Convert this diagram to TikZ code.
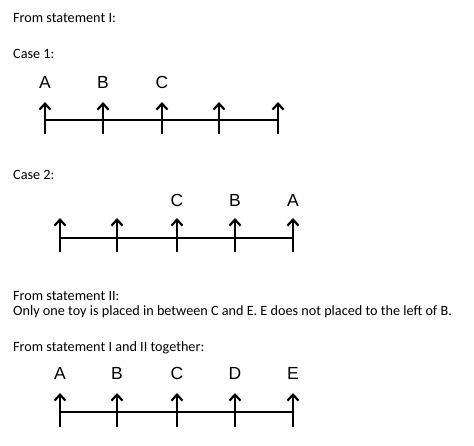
\documentclass[tikz,border=0pt]{standalone}
\usepackage{fontspec}
\setmainfont{Carlito}
\newfontfamily\arialfont{Liberation Sans}
\usetikzlibrary{arrows.meta}
\begin{document}
\begin{tikzpicture}[x=1pt,y=-1pt,
  txt/.style={anchor=west,inner sep=0pt,font=\fontsize{14.2}{16}\selectfont},
  lbl/.style={inner sep=0pt,font=\arialfont\fontsize{17.5}{20}\selectfont},
  tick/.style={line width=2.3pt,-{Straight Barb[length=6pt,width=11pt,line width=2.2pt]}},
  axis/.style={line width=2.3pt}]
\useasboundingbox[fill=white] (0,0) rectangle (474,445);
\node[txt] (s1) at (13,18) {From statement I:};
\node[txt] (c1) at (13,54) {Case 1:};
\node[txt] (c2) at (13,175) {Case 2:};
\node[txt] (s2) at (13,296) {From statement II:};
\node[txt] (s2b) at (13,312) {Only one toy is placed in between C and E. E does not placed to the left of B.};
\node[txt] (s3) at (13,348) {From statement I and II together:};
% Case 1
\foreach \i/\x in {1/45,2/103,3/162,4/219,5/278}{
  \coordinate (a\i b) at (\x,134);
  \coordinate (a\i t) at (\x,102);
  \draw[tick] (a\i b) -- (a\i t);
}
\draw[axis] (a1b |- 0,120) coordinate (a1m) -- (a5b |- 0,120) coordinate (a5m);
\node[lbl] (la) at (45,82) {A};
\node[lbl] (lb) at (103,82) {B};
\node[lbl] (lc) at (162,82) {C};
% Case 2
\foreach \i/\x in {1/60,2/117,3/177,4/235,5/293}{
  \coordinate (b\i b) at (\x,252);
  \coordinate (b\i t) at (\x,218);
  \draw[tick] (b\i b) -- (b\i t);
}
\draw[axis] (b1b |- 0,238) coordinate (b1m) -- (b5b |- 0,238) coordinate (b5m);
\node[lbl] (mc) at (177,200) {C};
\node[lbl] (mb) at (235,200) {B};
\node[lbl] (ma) at (293,200) {A};
% Together
\foreach \i/\x/\l in {1/60/A,2/117/B,3/177/C,4/235/D,5/293/E}{
  \coordinate (d\i b) at (\x,427);
  \coordinate (d\i t) at (\x,393);
  \draw[tick] (d\i b) -- (d\i t);
  \node[lbl] (n\i) at (\x,373) {\l};
}
\draw[axis] (d1b |- 0,412) coordinate (d1m) -- (d5b |- 0,412) coordinate (d5m);
\end{tikzpicture}
\end{document}
